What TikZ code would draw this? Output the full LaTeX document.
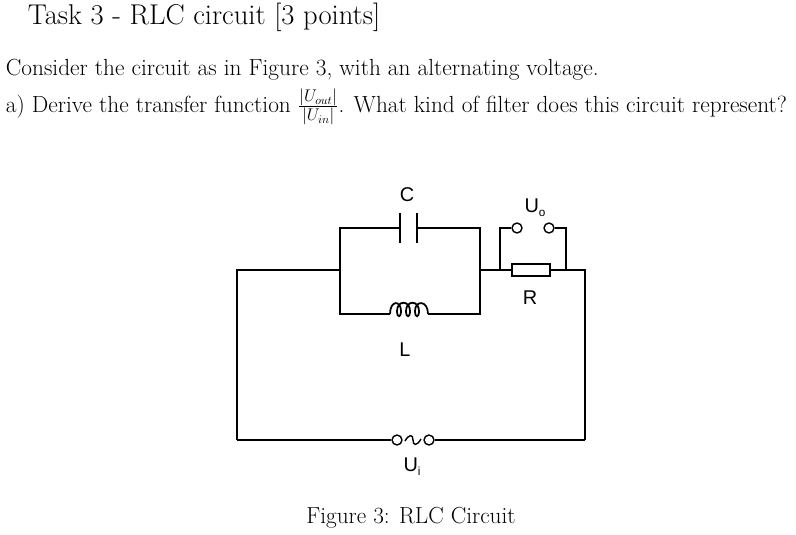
\documentclass[tikz,border=0pt]{standalone}
\usepackage{fontspec}
\newfontfamily\sfl{Liberation Sans}
\begin{document}
\begin{tikzpicture}[x=0.03cm,y=-0.03cm,line width=1.5pt,
  term/.style={circle,draw,inner sep=0pt,minimum size=8.5pt,fill=white,line width=1.2pt},
  lab/.style={font=\sfl\fontsize{17}{17}\selectfont,inner sep=0pt},
  txt/.style={anchor=west,inner sep=0pt,font=\fontsize{19.9}{22}\selectfont}]
\useasboundingbox (0,0) rectangle (796,534);
\node[anchor=west,inner sep=0pt,font=\fontsize{24.4}{26}\selectfont] (title) at (27,17) {Task 3 - RLC circuit [3 points]};
\node[txt] (l1) at (5,70) {Consider the circuit as in Figure 3, with an alternating voltage.};
\node[txt] (l2) at (5,107) {a) Derive the transfer function $\frac{|U_{out}|}{|U_{in}|}$. What kind of filter does this circuit represent?};
\node[inner sep=0pt,font=\fontsize{19.8}{22}\selectfont] (cap) at (411,518) {Figure 3: RLC Circuit};
% coordinates
\coordinate (A) at (237,270); \coordinate (B) at (340,270);
\coordinate (PL) at (340,228); \coordinate (PR) at (480,228);
\coordinate (QL) at (340,314); \coordinate (QR) at (480,314);
\coordinate (M) at (480,270); \coordinate (J1) at (500,270); \coordinate (J2) at (566,270);
\coordinate (E) at (585,270); \coordinate (F) at (585,440); \coordinate (G) at (237,440);
% wires
\draw (G) -- (A) -- (B) -- (PL) -- (400,228);
\draw (417,228) -- (PR) -- (QR) -- (428,314);
\draw (390,314) -- (QL) -- (B);
\draw (400,213) -- (400,243); \draw (417,213) -- (417,243);
\draw (390,314) .. controls (390,300) and (401,300) .. (401,311) .. controls (401,318) and (397,318) .. (397,311)
  .. controls (397,300) and (410,300) .. (410,311) .. controls (410,318) and (406,318) .. (406,311)
  .. controls (406,300) and (419,300) .. (419,311) .. controls (419,318) and (415,318) .. (415,311)
  .. controls (415,300) and (428,300) .. (428,314);
\node[draw,minimum width=38*0.03cm,minimum height=12*0.03cm,inner sep=0pt,line width=1.2pt] (R) at (531,270) {};
\draw (M) -- (R.west); \draw (R.east) -- (E) -- (F);
\node[term] (o1) at (517,228) {}; \node[term] (o2) at (549,228) {};
\draw (J1) -- (500,228) -- (o1); \draw (o2) -- (566,228) -- (J2);
\node[term] (s1) at (397,440) {}; \node[term] (s2) at (429,440) {};
\draw (F) -- (s2); \draw (s1) -- (G);
\draw[line width=1.2pt] (405,441) .. controls (409,434) and (413,434) .. (413,440) .. controls (413,446) and (417,446) .. (421,439);
\node[lab] (lc) at (407,195) {C};
\node[lab] (lu) at (535,208) {U\raisebox{-0.4ex}{\fontsize{10}{10}\selectfont o}};
\node[lab] (lr) at (530,298) {R};
\node[lab] (ll) at (405,350) {L};
\node[lab] (li) at (412,467) {U\raisebox{-0.4ex}{\fontsize{10}{10}\selectfont i}};
\end{tikzpicture}
\end{document}
